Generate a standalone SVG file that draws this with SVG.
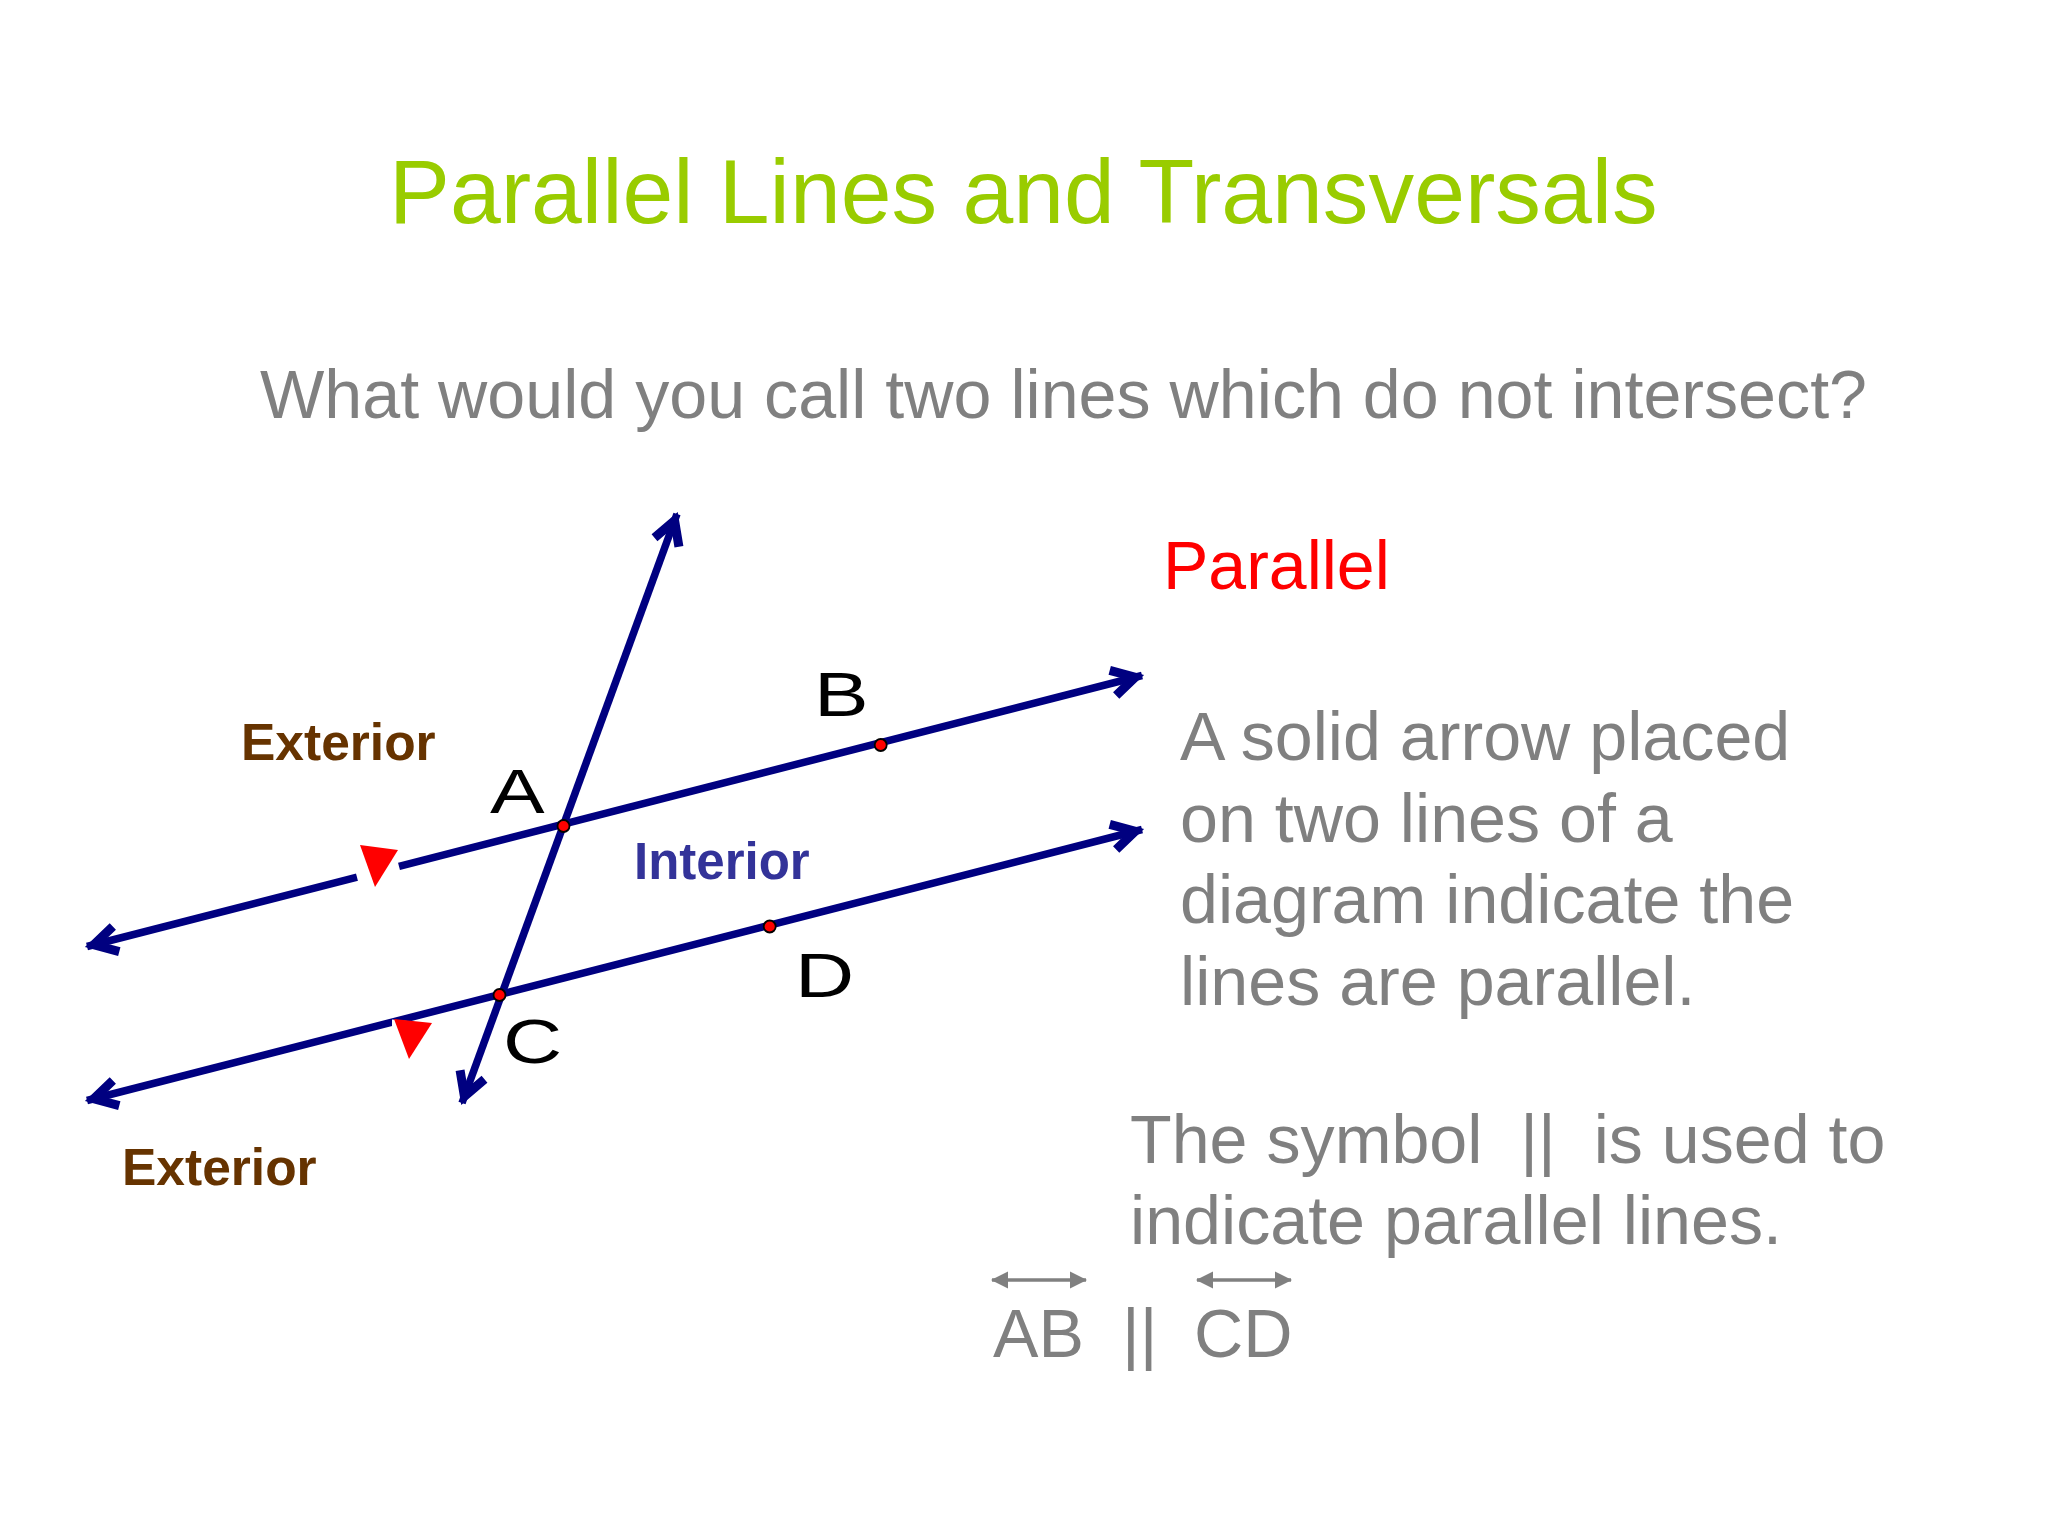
<svg xmlns="http://www.w3.org/2000/svg" width="2048" height="1536" viewBox="0 0 2048 1536">
<style>
.ttl{font-family:"Liberation Sans",Arial,sans-serif;font-size:91.3px;fill:#99cc00}
.gray{font-family:"Liberation Sans",Arial,sans-serif;font-size:68.2px;fill:#808080;white-space:pre}
.red{font-family:"Liberation Sans",Arial,sans-serif;font-size:68px;fill:#ff0000}
.ext{font-family:"Liberation Sans",Arial,sans-serif;font-size:51.5px;font-weight:bold;fill:#663300}
.int{font-family:"Liberation Sans",Arial,sans-serif;font-size:51px;font-weight:bold;fill:#333399}
.pt{font-family:"Liberation Sans",Arial,sans-serif;font-size:63px;fill:#000000}
.ln{stroke:#000080;stroke-width:7.5;fill:none;marker-start:url(#chev);marker-end:url(#chev)}
.dot{fill:#ff0000;stroke:#000000;stroke-width:1.8}
.tri{fill:#ff0000}
.sm{stroke:#808080;stroke-width:3.4;fill:none;marker-start:url(#sarr);marker-end:url(#sarr)}
</style>
<defs>
<marker id="chev" markerUnits="userSpaceOnUse" orient="auto-start-reverse" refX="0" refY="0" markerWidth="80" markerHeight="80" viewBox="-40 -40 80 80" overflow="visible">
<path d="M -30,-13 L -7,0 L -30,13" fill="none" stroke="#000080" stroke-width="9" stroke-linejoin="miter" stroke-miterlimit="10"/>
</marker>
<marker id="sarr" markerUnits="userSpaceOnUse" orient="auto-start-reverse" refX="0" refY="0" markerWidth="40" markerHeight="40" viewBox="-20 -20 40 40" overflow="visible">
<path d="M 1,0 L -16,-8.5 L -16,8.5 Z" fill="#808080"/>
</marker>
</defs>
<rect x="0" y="0" width="2048" height="1536" fill="#ffffff"/>

<g id="title"><text class="ttl" x="389" y="223">Parallel Lines and Transversals</text></g>
<g id="question"><text class="gray" x="260" y="418">What would you call two lines which do not intersect?</text></g>
<g id="answer"><text class="red" x="1163" y="589">Parallel</text></g>

<g id="connectors">
<line id="line-AB" class="ln" x1="87" y1="946.5" x2="1142" y2="675.5"/>
<line id="line-CD" class="ln" x1="87" y1="1100.5" x2="1142" y2="829.5"/>
<line id="transversal" class="ln" x1="677" y1="514" x2="462" y2="1103"/>
</g>

<g id="parallel-marks">
<line x1="357" y1="877.3" x2="399" y2="866.4" stroke="#ffffff" stroke-width="12"/>
<polygon class="tri" points="360,845 398,850 375,887"/>
<polygon points="392,1019.5 434,1023.5 434,1036 392,1036" fill="#ffffff"/>
<polygon class="tri" points="394,1019 432,1023 409,1059"/>
</g>

<g id="point-A"><circle class="dot" cx="563.5" cy="826" r="6"/><text class="pt" transform="translate(490,813) scale(1.3,1)">A</text></g>
<g id="point-B"><circle class="dot" cx="880.7" cy="745" r="6"/><text class="pt" transform="translate(814,716) scale(1.3,1)">B</text></g>
<g id="point-C"><circle class="dot" cx="499.5" cy="995" r="6"/><text class="pt" transform="translate(503,1063) scale(1.3,1)">C</text></g>
<g id="point-D"><circle class="dot" cx="769.7" cy="926.5" r="6"/><text class="pt" transform="translate(795,997) scale(1.3,1)">D</text></g>

<g id="label-exterior-top"><text class="ext" x="241" y="760">Exterior</text></g>
<g id="label-interior"><text class="int" x="634" y="879">Interior</text></g>
<g id="label-exterior-bottom"><text class="ext" x="122" y="1185">Exterior</text></g>

<g id="explanation">
<text class="gray" x="1180" y="760">A solid arrow placed</text>
<text class="gray" x="1180" y="842">on two lines of a</text>
<text class="gray" x="1180" y="923">diagram indicate the</text>
<text class="gray" x="1180" y="1005">lines are parallel.</text>
</g>

<g id="symbol-note">
<text class="gray" x="1130" y="1163">The symbol  ||  is used to</text>
<text class="gray" x="1130" y="1244">indicate parallel lines.</text>
</g>

<g id="notation">
<line class="sm" x1="992" y1="1280" x2="1086" y2="1280"/>
<line class="sm" x1="1197" y1="1280" x2="1291" y2="1280"/>
<text class="gray" x="993" y="1357">AB</text>
<text class="gray" x="1122" y="1357">||</text>
<text class="gray" x="1194" y="1357">CD</text>
</g>
</svg>
